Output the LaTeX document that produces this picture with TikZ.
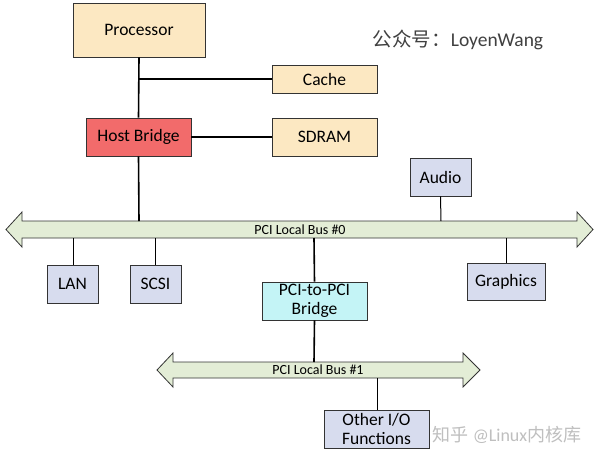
\documentclass[tikz,border=0pt]{standalone}
\usepackage{fontspec}
\setmainfont{Carlito}
\newfontfamily\cjk{Noto Sans CJK SC}
\definecolor{cream}{HTML}{FCE8C2}
\definecolor{hostred}{HTML}{F26B6B}
\definecolor{dev}{HTML}{D7DCEE}
\definecolor{cyanb}{HTML}{C4F4F6}
\definecolor{busg}{HTML}{E3EDD6}
\begin{document}
\begin{tikzpicture}[x=1pt,y=-1pt,
  box/.style={draw=black!80,line width=0.8pt,align=center,font=\fontsize{17.5}{19}\selectfont,inner sep=0pt},
  conn/.style={line width=1.6pt},
  thin/.style={line width=1pt},
  lbl/.style={font=\fontsize{14}{15}\selectfont}]
\useasboundingbox (0,0) rectangle (600,459);
\fill[white] (0,0) rectangle (600,459);
\node[box,fill=cream,minimum width=132,minimum height=54] (proc) at (139,30) {Processor};
\node[box,fill=cream,minimum width=105,minimum height=28] (cache) at (324.5,79) {Cache};
\node[box,fill=hostred,minimum width=105,minimum height=38] (host) at (138.5,137) {Host Bridge};
\node[box,fill=cream,minimum width=105,minimum height=38] (sdram) at (324.5,137) {SDRAM};
\node[box,fill=dev,minimum width=61,minimum height=38] (audio) at (440.5,177) {Audio};
% bus 0
\draw[black!80,line width=0.8pt,fill=busg] (6,229.5) -- (22,212) -- (22,221) -- (577,221) -- (577,212) -- (593,229.5) -- (577,247) -- (577,238) -- (22,238) -- (22,247) -- cycle;
\node[lbl] (bus0) at (300,229.5) {PCI Local Bus \#0};
\coordinate (b0host) at (139,221);
\coordinate (b0audio) at (441,221);
\coordinate (b0lan) at (73,238);
\coordinate (b0scsi) at (155,238);
\coordinate (b0pci) at (314,238);
\coordinate (b0gfx) at (506,238);
\node[box,fill=dev,minimum width=51,minimum height=38] (lan) at (72.5,284) {LAN};
\node[box,fill=dev,minimum width=51,minimum height=38] (scsi) at (155.5,284) {SCSI};
\node[box,fill=dev,minimum width=78,minimum height=37] (gfx) at (506,281.5) {Graphics};
\node[box,fill=cyanb,minimum width=105,minimum height=38] (p2p) at (314.5,301) {PCI-to-PCI\\Bridge};
% bus 1
\draw[black!80,line width=0.8pt,fill=busg] (157,370) -- (173,353) -- (173,362) -- (463,362) -- (463,353) -- (480,370) -- (463,387) -- (463,378) -- (173,378) -- (173,387) -- cycle;
\node[lbl] (bus1) at (318,370) {PCI Local Bus \#1};
\coordinate (b1p2p) at (314,362);
\coordinate (b1io) at (377,378);
\node[box,fill=dev,minimum width=105,minimum height=38] (io) at (376.5,429) {Other I/O\\Functions};
% connectors
\draw[conn] (proc.south) -- (host.north);
\coordinate (cj) at (139,79);
\draw[conn] (cj) -- (cache.west);
\draw[conn] (host.east) -- (sdram.west);
\draw[conn] (host.south) -- (b0host);
\draw[thin] (audio.south) -- (b0audio);
\draw[thin] (b0lan) -- (b0lan|-lan.north);
\draw[thin] (b0scsi) -- (b0scsi|-scsi.north);
\draw[conn] (b0pci) -- (p2p.north);
\draw[thin] (b0gfx) -- (gfx.north);
\draw[conn] (p2p.south) -- (b1p2p);
\draw[thin] (b1io) -- (b1io|-io.north);
% watermarks
\node[text=black!75,font=\fontsize{19.5}{21}\selectfont] (wm1) at (458,40) {{\cjk 公众号：}LoyenWang};
\node[text=black!25,font=\fontsize{18}{20}\selectfont] (wm2) at (507,435) {{\cjk 知乎 }@Linux{\cjk 内核库}};
\end{tikzpicture}
\end{document}
